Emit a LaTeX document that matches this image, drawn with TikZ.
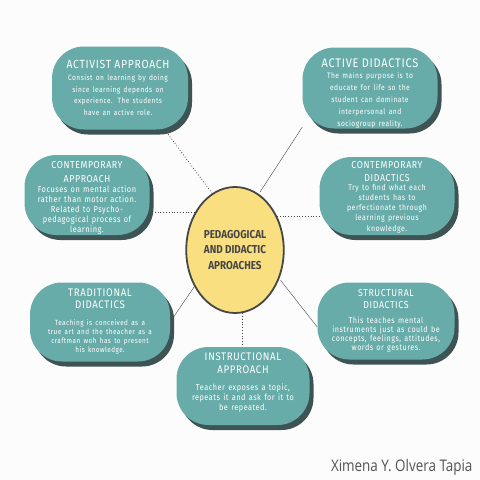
\documentclass[tikz,border=0pt]{standalone}
\usepackage{fontspec}
\usetikzlibrary{shapes.geometric,shadows,backgrounds}
\newfontfamily\ttlfont[FakeStretch=0.88,LetterSpace=6]{Fira Sans}
\newfontfamily\bdyfont[FakeStretch=0.85,LetterSpace=6]{Fira Sans}
\newfontfamily\ctrfont[FakeStretch=0.86]{Fira Sans}
\newfontfamily\nmfont[FakeStretch=0.84]{Open Sans}
\definecolor{bgc}{RGB}{252,252,252}
\definecolor{tealc}{RGB}{104,172,170}
\definecolor{shadc}{RGB}{62,84,84}
\definecolor{yelc}{RGB}{249,223,128}
\definecolor{linec}{RGB}{70,70,70}
% title and body of a card: size, leading, text
\newcommand\ttl[3]{{\ttlfont\fontsize{#1}{#2}\selectfont #3\par}}
\newcommand\bdy[3]{{\bdyfont\fontsize{#1}{#2}\selectfont #3\par}}
\begin{document}
\begin{tikzpicture}[x=1pt,y=-1pt,
    card/.style={rectangle,rounded corners=32pt,fill=tealc,inner sep=0pt,
        drop shadow={shadow xshift=4pt,shadow yshift=-5pt,fill=shadc,opacity=1}},
    cardtext/.style={anchor=north,text=white,inner sep=0pt,align=center,text width=#1},
    cardtext/.default=128pt,
    dotline/.style={linec,dotted,thick},
    thinline/.style={linec,thin}]
\useasboundingbox (0,0) rectangle (480,480);

        \node[card,minimum width=136pt,minimum height=83pt] (act) at (120,88) {};
        \node[card,minimum width=135pt,minimum height=81pt] (actd) at (370,88) {};
        \node[card,minimum width=125pt,minimum height=80pt] (capp) at (87,195) {};
        \node[card,minimum width=135pt,minimum height=78pt] (cdid) at (387,196) {};
        \node[card,minimum width=140pt,minimum height=79pt] (trad) at (100,322) {};
        \node[card,minimum width=137pt,minimum height=77pt] (struc) at (386,321) {};
        \node[card,minimum width=133pt,minimum height=78pt] (inst) at (243,386) {};

        \node[cardtext] (actx) at (118,59.9)
            {\ttl{11.8}{13}{ACTIVIST APPROACH}\vspace{0.3pt}\bdy{7.7}{11.7}{Consist on learning by doing\\since learning depends on\\experience. The students\\have an active role.}};
        \node[cardtext] (actdx) at (370,58.4)
            {\ttl{12.5}{13}{ACTIVE DIDACTICS}\vspace{-1pt}\bdy{7.9}{12}{The mains purpose is to\\educate for life so the\\student can dominate\\interpersonal and\\sociogroup reality.}};
        \node[cardtext=122pt] (cappx) at (87,161.1)
            {\ttl{10}{14}{CONTEMPORARY\\APPROACH}\vspace{-0.5pt}\bdy{8.7}{10.2}{Focuses on mental action\\rather than motor action.\\Related to Psycho-\\pedagogical\ process of\\learning.}};
        \node[cardtext] (cdidx) at (387,161.1)
            {\ttl{10}{13}{CONTEMPORARY\\DIDACTICS}\vspace{-1.2pt}\bdy{8.2}{10.2}{Try to find what each\\students has to\\perfectionate through\\learning previous\\knowledge.}};
        \node[cardtext=134pt] (tradx) at (100,288.4)
            {\ttl{11}{12.5}{TRADITIONAL\\DIDACTICS}\vspace{8pt}\bdy{7.5}{9}{Teaching is conceived as a\\true art and the theacher as a\\craftman woh has to present\\his knowledge.}};
        \node[cardtext=134pt] (strucx) at (386,289.1)
            {\ttl{10}{12.5}{STRUCTURAL\\DIDACTICS}\vspace{6pt}\bdy{8.4}{9}{This teaches mental\\instruments just as could be\\concepts, feelings, attitudes,\\words or gestures.}};
        \node[cardtext] (instx) at (243,352.4)
            {\ttl{11}{13}{INSTRUCTIONAL\\APPROACH}\vspace{7pt}\bdy{8.6}{10}{Teacher exposes a topic,\\repeats it and ask for it to\\be repeated.}};

        \node[ellipse,fill=yelc,draw=linec,line width=1.8pt,minimum width=96pt,minimum height=126pt,
            align=center,text=linec,font=\ctrfont\bfseries\fontsize{11.5}{15.5}\selectfont] (ell) at (235,250)
            {PEDAGOGICAL\\AND DIDACTIC\\APROACHES};

        \node[anchor=base east,text=gray!65!black,font=\nmfont\fontsize{16}{18}\selectfont] (name) at (476,471)
            {Ximena Y. Olvera Tapia};

\begin{scope}[on background layer]
        \fill[bgc] (0,0) rectangle (480,480);
        \draw[dotline] (ell.112) -- (act.-43);
        \draw[thinline,shorten <=2pt] (ell.67) -- (actd.210);
        \draw[dotline] (ell.137) -- (ell.137 -| capp.east);
        \draw[dotline] (ell.39) -- (ell.39 -| cdid.west);
        \draw[thinline] (ell.222) -- (trad.east);
        \draw[thinline,shorten <=2pt] (ell.-33) -- (struc.185);
        \draw[dotline] (ell.-83) -- (ell.-83 |- inst.north);
\end{scope}

\end{tikzpicture}
\end{document}
